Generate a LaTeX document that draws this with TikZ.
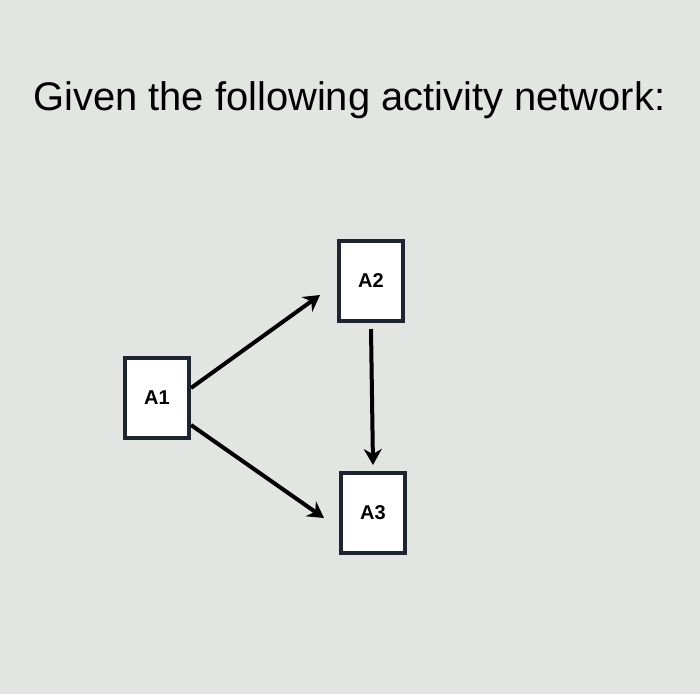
\documentclass[tikz,border=0pt]{standalone}
\usepackage{fontspec}
\setmainfont{Liberation Sans}
\usetikzlibrary{arrows.meta}
\definecolor{bg}{HTML}{E3E5E2}
\definecolor{bx}{HTML}{1E2430}
\begin{document}
\begin{tikzpicture}[x=1pt,y=-1pt,
  box/.style={draw=bx,line width=4pt,fill=white,minimum width=64pt,minimum height=80pt,inner sep=0pt,font=\fontsize{20}{22}\selectfont\bfseries},
  arr/.style={draw=black,line width=4pt,-{Stealth[length=16pt,width=18pt]}}]
\useasboundingbox (0,0) rectangle (700,694);
\fill[bg] (0,0) rectangle (700,694);
\node[anchor=base west,inner sep=0pt,font=\fontsize{39.9}{44}\selectfont] (t) at (33,110) {Given the following activity network:};
\node[box] (a1) at (157,398) {A1};
\node[box] (a2) at (371,281) {A2};
\node[box] (a3) at (373,513) {A3};
\coordinate (e1) at (320,295);
\coordinate (e2) at (324,518);
\draw[arr] ([yshift=10pt]a1.east) -- (e1);
\draw[arr] ([yshift=-27pt]a1.east) -- (e2);
\draw[arr] ([yshift=-6pt]a2.south) -- ([yshift=6pt]a3.north);
\end{tikzpicture}
\end{document}
